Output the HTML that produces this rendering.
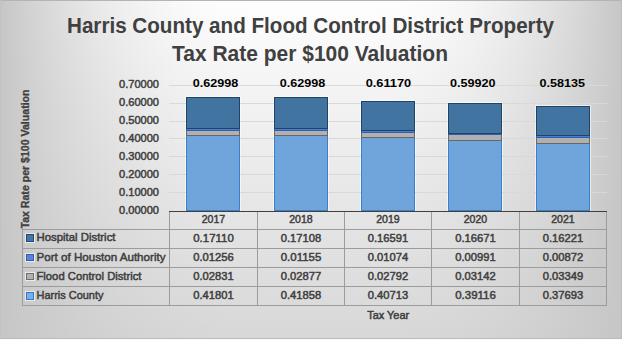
<!DOCTYPE html><html><head><meta charset="utf-8"><style>html,body{margin:0;padding:0;width:622px;height:340px;overflow:hidden;background:#d0d0d0}svg{display:block}</style></head><body>
<svg width="622" height="340" viewBox="0 0 622 340" font-family="'Liberation Sans', sans-serif" font-weight="bold">
<defs><linearGradient id="bgv" x1="0" y1="0" x2="0" y2="1"><stop offset="0" stop-color="rgb(254,254,254)"/><stop offset="1" stop-color="rgb(215,215,215)"/></linearGradient><linearGradient id="bgh" x1="0" y1="0" x2="1" y2="0"><stop offset="0.0000" stop-color="rgb(198,198,198)" stop-opacity="1.000"/><stop offset="0.0402" stop-color="rgb(198,198,198)" stop-opacity="0.810"/><stop offset="0.0804" stop-color="rgb(198,198,198)" stop-opacity="0.640"/><stop offset="0.1206" stop-color="rgb(198,198,198)" stop-opacity="0.490"/><stop offset="0.1608" stop-color="rgb(198,198,198)" stop-opacity="0.360"/><stop offset="0.2010" stop-color="rgb(198,198,198)" stop-opacity="0.250"/><stop offset="0.2412" stop-color="rgb(198,198,198)" stop-opacity="0.160"/><stop offset="0.2814" stop-color="rgb(198,198,198)" stop-opacity="0.090"/><stop offset="0.3215" stop-color="rgb(198,198,198)" stop-opacity="0.040"/><stop offset="0.3617" stop-color="rgb(198,198,198)" stop-opacity="0.010"/><stop offset="0.4019" stop-color="rgb(198,198,198)" stop-opacity="0.000"/><stop offset="0.5981" stop-color="rgb(198,198,198)" stop-opacity="0.000"/><stop offset="0.6383" stop-color="rgb(198,198,198)" stop-opacity="0.010"/><stop offset="0.6785" stop-color="rgb(198,198,198)" stop-opacity="0.040"/><stop offset="0.7186" stop-color="rgb(198,198,198)" stop-opacity="0.090"/><stop offset="0.7588" stop-color="rgb(198,198,198)" stop-opacity="0.160"/><stop offset="0.7990" stop-color="rgb(198,198,198)" stop-opacity="0.250"/><stop offset="0.8392" stop-color="rgb(198,198,198)" stop-opacity="0.360"/><stop offset="0.8794" stop-color="rgb(198,198,198)" stop-opacity="0.490"/><stop offset="0.9196" stop-color="rgb(198,198,198)" stop-opacity="0.640"/><stop offset="0.9598" stop-color="rgb(198,198,198)" stop-opacity="0.810"/><stop offset="1.0000" stop-color="rgb(198,198,198)" stop-opacity="1.000"/></linearGradient></defs>
<rect x="0" y="0" width="622" height="340" fill="url(#bgv)"/>
<rect x="0" y="0" width="622" height="340" fill="url(#bgh)"/>
<rect x="0" y="0" width="622" height="1" fill="#b4b4b4"/>
<rect x="0" y="0" width="1" height="339" fill="#c2c2c2"/>
<rect x="621" y="0" width="1" height="339" fill="#bebebe"/>
<rect x="0" y="338" width="622" height="1" fill="#bcbcbc"/>
<rect x="0" y="339" width="622" height="1" fill="#fafafa"/>
<text x="310.5" y="32.5" text-anchor="middle" font-size="21.3" fill="#404040" textLength="487" lengthAdjust="spacingAndGlyphs">Harris County and Flood Control District Property</text>
<text x="310" y="61" text-anchor="middle" font-size="21.3" fill="#404040" textLength="276" lengthAdjust="spacingAndGlyphs">Tax Rate per $100 Valuation</text>
<rect x="185.5" y="96.5" width="55" height="114.5" fill="none" stroke="rgba(255,255,255,0.6)" stroke-width="1"/>
<rect x="273.5" y="96.5" width="55" height="114.5" fill="none" stroke="rgba(255,255,255,0.6)" stroke-width="1"/>
<rect x="360.5" y="100.5" width="55" height="110.5" fill="none" stroke="rgba(255,255,255,0.6)" stroke-width="1"/>
<rect x="447.5" y="102.5" width="55" height="108.5" fill="none" stroke="rgba(255,255,255,0.6)" stroke-width="1"/>
<rect x="535.5" y="105.5" width="55" height="105.5" fill="none" stroke="rgba(255,255,255,0.6)" stroke-width="1"/>
<rect x="169" y="192.0" width="438" height="1" fill="#d9d9d9"/>
<rect x="169" y="174.0" width="438" height="1" fill="#d9d9d9"/>
<rect x="169" y="156.0" width="438" height="1" fill="#d9d9d9"/>
<rect x="169" y="138.0" width="438" height="1" fill="#d9d9d9"/>
<rect x="169" y="121.0" width="438" height="1" fill="#d9d9d9"/>
<rect x="169" y="103.0" width="438" height="1" fill="#d9d9d9"/>
<rect x="169" y="85.0" width="438" height="1" fill="#d9d9d9"/>
<text x="159" y="213.55" text-anchor="end" font-size="11.2" fill="#404040" textLength="40" lengthAdjust="spacingAndGlyphs" font-weight="normal" stroke="#404040" stroke-width="0.5">0.00000</text>
<text x="159" y="195.60" text-anchor="end" font-size="11.2" fill="#404040" textLength="40" lengthAdjust="spacingAndGlyphs" font-weight="normal" stroke="#404040" stroke-width="0.5">0.10000</text>
<text x="159" y="177.65" text-anchor="end" font-size="11.2" fill="#404040" textLength="40" lengthAdjust="spacingAndGlyphs" font-weight="normal" stroke="#404040" stroke-width="0.5">0.20000</text>
<text x="159" y="159.70" text-anchor="end" font-size="11.2" fill="#404040" textLength="40" lengthAdjust="spacingAndGlyphs" font-weight="normal" stroke="#404040" stroke-width="0.5">0.30000</text>
<text x="159" y="141.75" text-anchor="end" font-size="11.2" fill="#404040" textLength="40" lengthAdjust="spacingAndGlyphs" font-weight="normal" stroke="#404040" stroke-width="0.5">0.40000</text>
<text x="159" y="123.80" text-anchor="end" font-size="11.2" fill="#404040" textLength="40" lengthAdjust="spacingAndGlyphs" font-weight="normal" stroke="#404040" stroke-width="0.5">0.50000</text>
<text x="159" y="105.85" text-anchor="end" font-size="11.2" fill="#404040" textLength="40" lengthAdjust="spacingAndGlyphs" font-weight="normal" stroke="#404040" stroke-width="0.5">0.60000</text>
<text x="159" y="87.90" text-anchor="end" font-size="11.2" fill="#404040" textLength="40" lengthAdjust="spacingAndGlyphs" font-weight="normal" stroke="#404040" stroke-width="0.5">0.70000</text>
<rect x="186.5" y="135.5" width="53" height="75.0" fill="#6fa5da" stroke="#3d7fc8" stroke-width="1"/>
<rect x="186.5" y="130.5" width="53" height="5.0" fill="#b0b0b0" stroke="#6c6660" stroke-width="1"/>
<rect x="186.5" y="128.5" width="53" height="2.0" fill="#4a7dd0" stroke="#2f5fb5" stroke-width="1"/>
<rect x="186.5" y="97.5" width="53" height="31.0" fill="#4274a2" stroke="#1f4468" stroke-width="1"/>
<text x="215.5" y="86.8" text-anchor="middle" font-size="10.5" fill="#000000" textLength="45.5" lengthAdjust="spacingAndGlyphs">0.62998</text>
<rect x="274.5" y="135.5" width="53" height="75.0" fill="#6fa5da" stroke="#3d7fc8" stroke-width="1"/>
<rect x="274.5" y="130.5" width="53" height="5.0" fill="#b0b0b0" stroke="#6c6660" stroke-width="1"/>
<rect x="274.5" y="128.5" width="53" height="2.0" fill="#4a7dd0" stroke="#2f5fb5" stroke-width="1"/>
<rect x="274.5" y="97.5" width="53" height="31.0" fill="#4274a2" stroke="#1f4468" stroke-width="1"/>
<text x="302.5" y="86.8" text-anchor="middle" font-size="10.5" fill="#000000" textLength="45.5" lengthAdjust="spacingAndGlyphs">0.62998</text>
<rect x="361.5" y="137.5" width="53" height="73.0" fill="#6fa5da" stroke="#3d7fc8" stroke-width="1"/>
<rect x="361.5" y="132.5" width="53" height="5.0" fill="#b0b0b0" stroke="#6c6660" stroke-width="1"/>
<rect x="361.5" y="130.5" width="53" height="2.0" fill="#4a7dd0" stroke="#2f5fb5" stroke-width="1"/>
<rect x="361.5" y="101.5" width="53" height="29.0" fill="#4274a2" stroke="#1f4468" stroke-width="1"/>
<text x="388.4" y="86.8" text-anchor="middle" font-size="10.5" fill="#000000" textLength="45.5" lengthAdjust="spacingAndGlyphs">0.61170</text>
<rect x="448.5" y="140.5" width="53" height="70.0" fill="#6fa5da" stroke="#3d7fc8" stroke-width="1"/>
<rect x="448.5" y="134.5" width="53" height="6.0" fill="#b0b0b0" stroke="#6c6660" stroke-width="1"/>
<rect x="448.5" y="133.5" width="53" height="1.0" fill="#4a7dd0" stroke="#2f5fb5" stroke-width="1"/>
<rect x="448.5" y="103.5" width="53" height="30.0" fill="#4274a2" stroke="#1f4468" stroke-width="1"/>
<text x="472.7" y="86.8" text-anchor="middle" font-size="10.5" fill="#000000" textLength="45.5" lengthAdjust="spacingAndGlyphs">0.59920</text>
<rect x="536.5" y="143.5" width="53" height="67.0" fill="#6fa5da" stroke="#3d7fc8" stroke-width="1"/>
<rect x="536.5" y="137.5" width="53" height="6.0" fill="#b0b0b0" stroke="#6c6660" stroke-width="1"/>
<rect x="536.5" y="135.5" width="53" height="2.0" fill="#4a7dd0" stroke="#2f5fb5" stroke-width="1"/>
<rect x="536.5" y="106.5" width="53" height="29.0" fill="#4274a2" stroke="#1f4468" stroke-width="1"/>
<text x="562.3" y="86.8" text-anchor="middle" font-size="10.5" fill="#000000" textLength="45.5" lengthAdjust="spacingAndGlyphs">0.58135</text>
<rect x="22" y="229" width="585" height="1" fill="#9c9c9c"/>
<rect x="22" y="248" width="585" height="1" fill="#9c9c9c"/>
<rect x="22" y="267" width="585" height="1" fill="#9c9c9c"/>
<rect x="22" y="286" width="585" height="1" fill="#9c9c9c"/>
<rect x="22" y="305" width="585" height="1" fill="#9c9c9c"/>
<rect x="22" y="229" width="1" height="77" fill="#9c9c9c"/>
<rect x="169" y="211" width="1" height="95" fill="#9c9c9c"/>
<rect x="257" y="211" width="1" height="95" fill="#9c9c9c"/>
<rect x="344" y="211" width="1" height="95" fill="#9c9c9c"/>
<rect x="431" y="211" width="1" height="95" fill="#9c9c9c"/>
<rect x="519" y="211" width="1" height="95" fill="#9c9c9c"/>
<rect x="606" y="211" width="1" height="95" fill="#9c9c9c"/>
<rect x="169" y="211" width="438" height="1" fill="#404040"/>
<text x="213.5" y="223" text-anchor="middle" font-size="11.2" fill="#404040" textLength="23.5" lengthAdjust="spacingAndGlyphs" font-weight="normal" stroke="#404040" stroke-width="0.5">2017</text>
<text x="301.0" y="223" text-anchor="middle" font-size="11.2" fill="#404040" textLength="23.5" lengthAdjust="spacingAndGlyphs" font-weight="normal" stroke="#404040" stroke-width="0.5">2018</text>
<text x="388.0" y="223" text-anchor="middle" font-size="11.2" fill="#404040" textLength="23.5" lengthAdjust="spacingAndGlyphs" font-weight="normal" stroke="#404040" stroke-width="0.5">2019</text>
<text x="475.5" y="223" text-anchor="middle" font-size="11.2" fill="#404040" textLength="23.5" lengthAdjust="spacingAndGlyphs" font-weight="normal" stroke="#404040" stroke-width="0.5">2020</text>
<text x="563.0" y="223" text-anchor="middle" font-size="11.2" fill="#404040" textLength="23.5" lengthAdjust="spacingAndGlyphs" font-weight="normal" stroke="#404040" stroke-width="0.5">2021</text>
<rect x="25.5" y="233.5" width="9" height="9" fill="none" stroke="rgba(255,255,255,0.6)" stroke-width="1"/>
<rect x="26.5" y="234.5" width="7" height="7" fill="#4676a6" stroke="#1f4a76" stroke-width="1"/>
<text x="36.5" y="241.4" text-anchor="start" font-size="11.5" fill="#404040" textLength="79" lengthAdjust="spacingAndGlyphs" font-weight="normal" stroke="#404040" stroke-width="0.5">Hospital District</text>
<text x="213.5" y="241.5" text-anchor="middle" font-size="11.2" fill="#404040" textLength="40.5" lengthAdjust="spacingAndGlyphs" font-weight="normal" stroke="#404040" stroke-width="0.5">0.17110</text>
<text x="301.0" y="241.5" text-anchor="middle" font-size="11.2" fill="#404040" textLength="40.5" lengthAdjust="spacingAndGlyphs" font-weight="normal" stroke="#404040" stroke-width="0.5">0.17108</text>
<text x="388.0" y="241.5" text-anchor="middle" font-size="11.2" fill="#404040" textLength="40.5" lengthAdjust="spacingAndGlyphs" font-weight="normal" stroke="#404040" stroke-width="0.5">0.16591</text>
<text x="475.5" y="241.5" text-anchor="middle" font-size="11.2" fill="#404040" textLength="40.5" lengthAdjust="spacingAndGlyphs" font-weight="normal" stroke="#404040" stroke-width="0.5">0.16671</text>
<text x="563.0" y="241.5" text-anchor="middle" font-size="11.2" fill="#404040" textLength="40.5" lengthAdjust="spacingAndGlyphs" font-weight="normal" stroke="#404040" stroke-width="0.5">0.16221</text>
<rect x="25.5" y="253.5" width="9" height="8" fill="none" stroke="rgba(255,255,255,0.6)" stroke-width="1"/>
<rect x="26.5" y="254.5" width="7" height="6" fill="#5986d8" stroke="#2f5cbc" stroke-width="1"/>
<text x="36.5" y="260.6" text-anchor="start" font-size="11.5" fill="#404040" textLength="129" lengthAdjust="spacingAndGlyphs" font-weight="normal" stroke="#404040" stroke-width="0.5">Port of Houston Authority</text>
<text x="213.5" y="260.5" text-anchor="middle" font-size="11.2" fill="#404040" textLength="40.5" lengthAdjust="spacingAndGlyphs" font-weight="normal" stroke="#404040" stroke-width="0.5">0.01256</text>
<text x="301.0" y="260.5" text-anchor="middle" font-size="11.2" fill="#404040" textLength="40.5" lengthAdjust="spacingAndGlyphs" font-weight="normal" stroke="#404040" stroke-width="0.5">0.01155</text>
<text x="388.0" y="260.5" text-anchor="middle" font-size="11.2" fill="#404040" textLength="40.5" lengthAdjust="spacingAndGlyphs" font-weight="normal" stroke="#404040" stroke-width="0.5">0.01074</text>
<text x="475.5" y="260.5" text-anchor="middle" font-size="11.2" fill="#404040" textLength="40.5" lengthAdjust="spacingAndGlyphs" font-weight="normal" stroke="#404040" stroke-width="0.5">0.00991</text>
<text x="563.0" y="260.5" text-anchor="middle" font-size="11.2" fill="#404040" textLength="40.5" lengthAdjust="spacingAndGlyphs" font-weight="normal" stroke="#404040" stroke-width="0.5">0.00872</text>
<rect x="25.5" y="272.5" width="9" height="8" fill="none" stroke="rgba(255,255,255,0.6)" stroke-width="1"/>
<rect x="26.5" y="273.5" width="7" height="6" fill="#b2b2b2" stroke="#6e6e6e" stroke-width="1"/>
<text x="36.5" y="279.8" text-anchor="start" font-size="11.5" fill="#404040" textLength="105" lengthAdjust="spacingAndGlyphs" font-weight="normal" stroke="#404040" stroke-width="0.5">Flood Control District</text>
<text x="213.5" y="279.5" text-anchor="middle" font-size="11.2" fill="#404040" textLength="40.5" lengthAdjust="spacingAndGlyphs" font-weight="normal" stroke="#404040" stroke-width="0.5">0.02831</text>
<text x="301.0" y="279.5" text-anchor="middle" font-size="11.2" fill="#404040" textLength="40.5" lengthAdjust="spacingAndGlyphs" font-weight="normal" stroke="#404040" stroke-width="0.5">0.02877</text>
<text x="388.0" y="279.5" text-anchor="middle" font-size="11.2" fill="#404040" textLength="40.5" lengthAdjust="spacingAndGlyphs" font-weight="normal" stroke="#404040" stroke-width="0.5">0.02792</text>
<text x="475.5" y="279.5" text-anchor="middle" font-size="11.2" fill="#404040" textLength="40.5" lengthAdjust="spacingAndGlyphs" font-weight="normal" stroke="#404040" stroke-width="0.5">0.03142</text>
<text x="563.0" y="279.5" text-anchor="middle" font-size="11.2" fill="#404040" textLength="40.5" lengthAdjust="spacingAndGlyphs" font-weight="normal" stroke="#404040" stroke-width="0.5">0.03349</text>
<rect x="25.5" y="291.5" width="9" height="9" fill="none" stroke="rgba(255,255,255,0.6)" stroke-width="1"/>
<rect x="26.5" y="292.5" width="7" height="7" fill="#7aaee0" stroke="#2e78d0" stroke-width="1"/>
<text x="36.5" y="298.8" text-anchor="start" font-size="11.5" fill="#404040" textLength="67" lengthAdjust="spacingAndGlyphs" font-weight="normal" stroke="#404040" stroke-width="0.5">Harris County</text>
<text x="213.5" y="298.5" text-anchor="middle" font-size="11.2" fill="#404040" textLength="40.5" lengthAdjust="spacingAndGlyphs" font-weight="normal" stroke="#404040" stroke-width="0.5">0.41801</text>
<text x="301.0" y="298.5" text-anchor="middle" font-size="11.2" fill="#404040" textLength="40.5" lengthAdjust="spacingAndGlyphs" font-weight="normal" stroke="#404040" stroke-width="0.5">0.41858</text>
<text x="388.0" y="298.5" text-anchor="middle" font-size="11.2" fill="#404040" textLength="40.5" lengthAdjust="spacingAndGlyphs" font-weight="normal" stroke="#404040" stroke-width="0.5">0.40713</text>
<text x="475.5" y="298.5" text-anchor="middle" font-size="11.2" fill="#404040" textLength="40.5" lengthAdjust="spacingAndGlyphs" font-weight="normal" stroke="#404040" stroke-width="0.5">0.39116</text>
<text x="563.0" y="298.5" text-anchor="middle" font-size="11.2" fill="#404040" textLength="40.5" lengthAdjust="spacingAndGlyphs" font-weight="normal" stroke="#404040" stroke-width="0.5">0.37693</text>
<text x="388.2" y="318.8" text-anchor="middle" font-size="11.2" fill="#404040" textLength="42" lengthAdjust="spacingAndGlyphs" font-weight="normal" stroke="#404040" stroke-width="0.5">Tax Year</text>
<text transform="translate(28.5,228.5) rotate(-90)" font-size="10.5" fill="#404040" textLength="139" lengthAdjust="spacingAndGlyphs" stroke="#404040" stroke-width="0.3">Tax Rate per $100 Valuation</text>
</svg></body></html>
